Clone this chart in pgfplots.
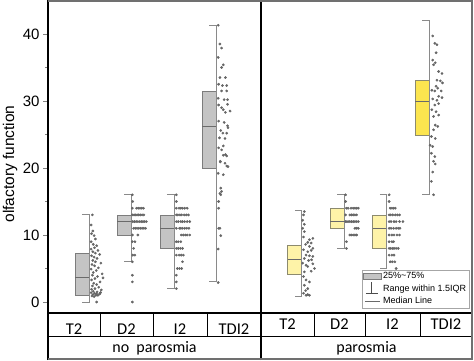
\documentclass[border=0pt]{standalone}
\usepackage{fontspec}
\setmainfont{Liberation Sans}
\newfontfamily\calibri{Carlito}
\usepackage{pgfplots}
\pgfplotsset{compat=1.18}
\definecolor{boxgray}{HTML}{C4C4C4}
\definecolor{boxedge}{HTML}{7C7C7C}
\definecolor{ypale}{HTML}{FEF3A8}
\definecolor{ystrong}{HTML}{FCE54F}
\definecolor{yedge}{HTML}{8C8A6E}
\definecolor{medcol}{HTML}{6A6A6A}
\definecolor{whiskcol}{HTML}{8A8A8A}
\definecolor{dotcol}{HTML}{666666}
\definecolor{framegray}{HTML}{707070}
\pgfplotsset{
  panel/.style={
    scale only axis, height=313pt, ymin=-1.64, ymax=45.07,
    axis line style={line width=1.1pt, black},
    xtick style={draw=none},
    xticklabel style={anchor=center, yshift=-11.5pt, font=\calibri\fontsize{16.5}{16.5}\selectfont},
    every axis x label/.style={at={(axis description cs:0.5,0)}, anchor=center, yshift=-35pt, font=\calibri\fontsize{16}{16}\selectfont},
    /pgf/number format/assume math mode=true,
  },
  dots/.style={only marks, mark=*, mark size=1.15pt, color=dotcol, forget plot},
  whisk/.style={whiskcol, line width=0.9pt, forget plot},
  med/.style={medcol, line width=0.8pt, forget plot},
}
\begin{document}
\begin{tikzpicture}[x=1pt,y=1pt]
\path[use as bounding box] (0,0) rectangle (474,360);
% ---------------- no parosmia ----------------
\begin{axis}[panel, at={(48pt,47pt)}, anchor=south west, width=213pt,
  xmin=0.2, xmax=5.212,
  xtick={0.812,2.047,3.306,4.576}, xticklabels={T2,D2,I2,TDI2},
  xlabel={no\ \ parosmia},
  ytick={0,10,20,30,40}, minor ytick={5,15,25,35}, ytick pos=left,
  tick align=outside, major tick length=5pt, minor tick length=3pt,
  yticklabel style={font=\fontsize{15}{15}\selectfont},
  ylabel={olfactory function},
  every axis y label/.style={at={(axis description cs:-0.178,0.476)}, rotate=90, anchor=center, font=\fontsize{15.5}{15.5}\selectfont},
]
% boxes: T2 (1.0,3.6,7.2 ; 0-13), D2 (10,12,13 ; 6-16), I2 (8,11,13 ; 2-16), TDI2 (20,26.2,31.5 ; 3-41.3)
\addplot[fill=boxgray, draw=boxedge, line width=0.8pt, forget plot] coordinates {(0.835,1.0) (1.165,1.0) (1.165,7.2) (0.835,7.2)} -- cycle;
\addplot[med] coordinates {(0.835,3.6) (1.165,3.6)};
\addplot[whisk] coordinates {(1,13) (1.165,13) (1.165,0) (1,0)};
\addplot[fill=boxgray, draw=boxedge, line width=0.8pt, forget plot] coordinates {(1.835,10) (2.165,10) (2.165,13) (1.835,13)} -- cycle;
\addplot[med] coordinates {(1.835,12) (2.165,12)};
\addplot[whisk] coordinates {(2,16) (2.165,16) (2.165,6) (2,6)};
\addplot[fill=boxgray, draw=boxedge, line width=0.8pt, forget plot] coordinates {(2.835,8) (3.165,8) (3.165,13) (2.835,13)} -- cycle;
\addplot[med] coordinates {(2.835,11) (3.165,11)};
\addplot[whisk] coordinates {(3,16) (3.165,16) (3.165,2) (3,2)};
\addplot[fill=boxgray, draw=boxedge, line width=0.8pt, forget plot] coordinates {(3.835,20) (4.165,20) (4.165,31.5) (3.835,31.5)} -- cycle;
\addplot[med] coordinates {(3.835,26.2) (4.165,26.2)};
\addplot[whisk] coordinates {(4,41.3) (4.165,41.3) (4.165,3) (4,3)};
% dots T2
\addplot[dots] table[x expr=\thisrow{dx}+1.165, y=y] {
dx y
0.08 13.0
0.05 11.5
0.09 10.6
0.06 10.2
0.12 9.9
0.15 9.4
0.05 9.0
0.10 8.6
0.18 8.4
0.13 8.1
0.05 7.9
0.21 7.7
0.09 7.5
0.15 7.3
0.25 7.1
0.06 6.9
0.12 6.7
0.19 6.5
0.09 6.2
0.15 6.0
0.28 5.8
0.07 5.6
0.13 5.4
0.22 5.1
0.05 4.9
0.17 4.7
0.10 4.4
0.31 4.2
0.08 4.0
0.20 3.8
0.14 3.5
0.06 3.3
0.33 3.6
0.26 3.0
0.11 2.8
0.18 2.6
0.08 2.4
0.23 2.2
0.14 2.0
0.06 1.9
0.29 1.8
0.10 1.6
0.19 1.5
0.05 1.4
0.13 1.3
0.25 1.2
0.09 1.1
0.16 1.0
0.21 1.0
0.07 0.9
0.12 0.8
0.18 1.2
0.27 1.4
0.18 0.0
};
% dots D2
\addplot[dots] table[x expr=\thisrow{dx}+2.165, y=y] {
dx y
0.02 16
0.03 15
0.02 14
0.12 14
0.16 14
0.20 14
0.24 14
0.28 14
0.02 13
0.06 13
0.09 13
0.13 13
0.17 13
0.21 13
0.25 13
0.29 13
0.03 12
0.07 12
0.11 12
0.15 12
0.19 12
0.23 12
0.27 12
0.31 12
0.35 12
0.05 11
0.09 11
0.13 11
0.17 11
0.21 11
0.25 11
0.29 11
0.33 11
0.02 10
0.15 10
0.02 9
0.08 9
0.05 8
0.03 7
0.08 7
0.02 6
0.02 4
0.02 3
0.02 0
};
% dots I2
\addplot[dots] table[x expr=\thisrow{dx}+3.165, y=y] {
dx y
0.055 16
0.055 15
0.055 14
0.12 14
0.16 14
0.20 14
0.25 14
0.31 14
0.055 13
0.09 13
0.14 13
0.18 13
0.24 13
0.29 13
0.34 13
0.055 12
0.10 12
0.16 12
0.20 12
0.25 12
0.31 12
0.37 12
0.055 11
0.13 11
0.16 11
0.20 11
0.25 11
0.30 11
0.35 11
0.17 10
0.22 10
0.27 10
0.31 10
0.37 10
0.055 9
0.10 9
0.16 9
0.055 8
0.10 8
0.15 8
0.20 8
0.055 7
0.12 7
0.17 7
0.22 7
0.20 6
0.08 5
0.13 5
0.18 5
0.055 4
0.055 3
0.055 2
};
% dots TDI2
\addplot[dots] table[x expr=\thisrow{dx}+4.165, y=y] {
dx y
0.04 41.3
0.08 38.5
0.12 37.9
0.04 36.5
0.12 35.0
0.16 35.4
0.08 33.5
0.21 33.5
0.05 32.5
0.14 32.3
0.24 32.3
0.12 31.5
0.24 31.5
0.04 30.4
0.18 30.2
0.26 30.2
0.05 29.4
0.12 29.0
0.26 29.5
0.16 28.7
0.21 28.3
0.32 28.5
0.05 27.0
0.18 26.8
0.26 26.3
0.10 25.6
0.15 25.2
0.24 25.2
0.27 26.0
0.07 24.5
0.20 24.4
0.16 23.3
0.05 23.0
0.12 22.7
0.21 22.0
0.24 21.8
0.09 21.0
0.16 21.9
0.20 20.7
0.27 20.2
0.24 20.3
0.09 20.9
0.04 19.2
0.16 19.0
0.10 17.0
0.12 16.5
0.10 16.0
0.08 16.2
0.05 15.0
0.05 14.0
0.05 11.0
0.08 11.0
0.10 9.9
0.04 7.9
0.04 2.9
};
\end{axis}
% ---------------- parosmia ----------------
\begin{axis}[panel, at={(261pt,47pt)}, anchor=south west, width=211pt,
  xmin=0.205, xmax=5.170,
  xtick={0.829,2.052,3.299,4.558}, xticklabels={T2,D2,I2,TDI2},
  xlabel={parosmia},
  ytick=\empty,
  legend style={at={(rel axis cs:1,0)}, anchor=south east, xshift=-3pt, yshift=5pt,
    draw=gray!70, line width=0.5pt, font=\fontsize{9}{10}\selectfont,
    inner sep=0.7pt, row sep=0.3pt, cells={anchor=west}},
  legend cell align=left,
]
\addlegendimage{legend image code/.code={\draw[fill=boxgray, draw=boxedge, line width=0.5pt] (-1.5pt,-3pt) rectangle (16.5pt,3pt);}}
\addlegendentry{25\%\textasciitilde 75\%}
\addlegendimage{legend image code/.code={\path[draw=none, fill=none] (-1.5pt,-2pt) rectangle (16.5pt,2pt); \draw[black!70, line width=0.6pt, overlay] (7.5pt,6.5pt) -- (7.5pt,-4.5pt); \draw[black!70, line width=0.6pt, overlay] (1.5pt,-4.5pt) -- (13.5pt,-4.5pt);}}
\addlegendentry{Range within 1.5IQR}
\addlegendimage{legend image code/.code={\draw[medcol, line width=0.8pt] (0.5pt,0pt) -- (15.5pt,0pt);}}
\addlegendentry{Median Line}
% boxes: T2 (4.1,6.4,8.4 ; 0.9-13.7), D2 (11,12,14 ; 8-16), I2 (8,11,13 ; 5-16), TDI2 (24.8,30,33 ; 16-42)
\addplot[fill=ypale, draw=yedge, line width=0.8pt, forget plot] coordinates {(0.835,4.1) (1.165,4.1) (1.165,8.4) (0.835,8.4)} -- cycle;
\addplot[med] coordinates {(0.835,6.4) (1.165,6.4)};
\addplot[whisk] coordinates {(1,13.7) (1.165,13.7) (1.165,0.9) (1,0.9)};
\addplot[fill=ypale, draw=yedge, line width=0.8pt, forget plot] coordinates {(1.835,11) (2.165,11) (2.165,14) (1.835,14)} -- cycle;
\addplot[med] coordinates {(1.835,12) (2.165,12)};
\addplot[whisk] coordinates {(2,16) (2.165,16) (2.165,8) (2,8)};
\addplot[fill=ypale, draw=yedge, line width=0.8pt, forget plot] coordinates {(2.835,8) (3.165,8) (3.165,13) (2.835,13)} -- cycle;
\addplot[med] coordinates {(2.835,11) (3.165,11)};
\addplot[whisk] coordinates {(3,16) (3.165,16) (3.165,5) (3,5)};
\addplot[fill=ystrong, draw=yedge, line width=0.8pt, forget plot] coordinates {(3.835,24.8) (4.165,24.8) (4.165,33) (3.835,33)} -- cycle;
\addplot[med] coordinates {(3.835,30) (4.165,30)};
\addplot[whisk] coordinates {(4,42) (4.165,42) (4.165,16) (4,16)};
% dots T2
\addplot[dots] table[x expr=\thisrow{dx}+1.165, y=y] {
dx y
0.06 13.5
0.04 13.0
0.02 12.2
0.06 11.6
0.02 11.0
0.06 10.5
0.04 9.7
0.18 9.3
0.26 9.5
0.14 8.9
0.22 8.8
0.09 8.6
0.18 8.3
0.26 8.0
0.04 7.8
0.14 7.5
0.22 7.7
0.10 7.0
0.18 6.9
0.26 6.8
0.06 6.5
0.16 6.2
0.23 6.3
0.02 5.8
0.10 5.5
0.26 5.7
0.14 5.3
0.30 5.0
0.06 4.5
0.22 4.6
0.04 3.8
0.10 3.3
0.18 3.0
0.06 2.5
0.14 2.0
0.09 1.7
0.04 1.3
0.10 1.0
0.18 1.0
0.14 1.1
};
% dots D2
\addplot[dots] table[x expr=\thisrow{dx}+2.165, y=y] {
dx y
0.03 16
0.03 15
0.05 14
0.09 14
0.16 14
0.21 14
0.25 14
0.29 14
0.33 14
0.03 13
0.13 13
0.17 13
0.21 13
0.25 13
0.29 13
0.03 12
0.06 12
0.09 12
0.13 12
0.17 12
0.21 12
0.25 12
0.29 12
0.33 12
0.25 11
0.29 11
0.33 11
0.13 10
0.17 10
0.21 10
0.25 10
0.29 10
0.05 9
0.05 8
};
% dots I2
\addplot[dots] table[x expr=\thisrow{dx}+3.165, y=y] {
dx y
0.055 16
0.055 15
0.08 14
0.12 14
0.16 14
0.20 14
0.055 13
0.09 13
0.14 13
0.20 13
0.25 13
0.30 13
0.055 12
0.10 12
0.17 12
0.22 12
0.30 12
0.38 12
0.055 11
0.10 11
0.16 11
0.22 11
0.27 11
0.31 11
0.055 10
0.12 10
0.17 10
0.24 10
0.30 10
0.055 9
0.12 9
0.16 9
0.055 8
0.09 8
0.13 8
0.17 8
0.22 8
0.27 8
0.055 7
0.12 7
0.17 7
0.08 6
0.13 6
0.19 6
0.22 5
};
% dots TDI2
\addplot[dots] table[x expr=\thisrow{dx}+4.165, y=y] {
dx y
0.08 39.7
0.13 38.6
0.18 38.4
0.16 37.2
0.08 36.1
0.14 35.7
0.10 35.4
0.22 34.4
0.30 34.1
0.18 33.1
0.26 33.0
0.31 32.7
0.16 32.2
0.20 31.9
0.06 31.6
0.13 31.5
0.28 31.5
0.22 30.7
0.30 30.5
0.08 30.3
0.18 30.1
0.13 29.4
0.22 29.6
0.06 28.7
0.16 28.4
0.10 27.7
0.22 27.9
0.14 26.4
0.20 26.2
0.10 25.7
0.05 24.7
0.14 24.4
0.02 23.4
0.08 23.2
0.05 22.2
0.13 21.7
0.10 21.0
0.14 20.6
0.08 19.4
0.05 18.0
0.10 16.0
};
\end{axis}
% ---------------- table lines and frame ----------------
\draw[black, line width=1pt] (48,24) -- (472,24);
\foreach \xx in {100,153,207,314,365,420} {\draw[black, line width=1pt] (\xx,24) -- (\xx,47);}
\draw[black, line width=1.6pt] (48,0) -- (48,47);
\draw[black, line width=1.4pt] (261,0) -- (261,360);
\draw[framegray, line width=2pt] (48,359) -- (473,359);
\draw[framegray, line width=2pt] (472,0) -- (472,360);
\draw[framegray, line width=2pt] (48,1) -- (473,1);
\end{tikzpicture}
\end{document}
